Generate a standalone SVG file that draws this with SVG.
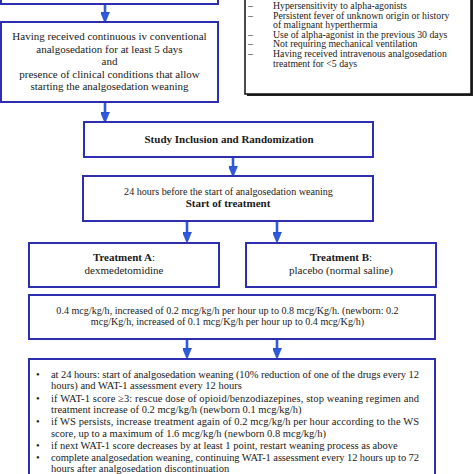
<svg xmlns="http://www.w3.org/2000/svg" width="474" height="474" viewBox="0 0 474 474">
<defs>
<style>
.box{fill:#fff;stroke:#2e2eb0;stroke-width:2}
.t{font-family:"Liberation Serif","Times New Roman",serif;fill:#1a1a1a}
.m{font-size:11px}
.s{font-size:9.8px}
.b{font-size:10.5px}
.d{font-size:10.1px}
.bold{font-weight:bold}
.arr{stroke:#2d5ae0;stroke-width:2.6;fill:none;marker-end:url(#ah)}
</style>
<marker id="ah" markerWidth="11" markerHeight="9" refX="5" refY="4.5" orient="auto" markerUnits="userSpaceOnUse" viewBox="0 0 11 9">
<path d="M0,0 L11,4.5 L0,9 Z" fill="#2d5ae0" stroke="#1f3fb0" stroke-width="0.6"/>
</marker>
</defs>
<rect width="474" height="474" fill="#fff"/>
<g id="connectors">
<line class="arr" x1="105" y1="4" x2="105" y2="17"/>
<line class="arr" x1="105" y1="102" x2="105" y2="117"/>
<line class="arr" x1="233" y1="157" x2="233" y2="171"/>
<line class="arr" x1="187" y1="221" x2="187" y2="237"/>
<line class="arr" x1="277" y1="221" x2="277" y2="237"/>
<line class="arr" x1="187" y1="339" x2="187" y2="353"/>
<line class="arr" x1="277" y1="339" x2="277" y2="353"/>
</g>
<g id="top-box">
<rect class="box" x="1" y="-20" width="217" height="24"/>
</g>
<g id="exclusion">
<rect x="247" y="-18" width="226" height="114" fill="#222"/>
<rect x="245" y="-20" width="226" height="114" fill="#fff" stroke="#111" stroke-width="1.5"/>
<g class="t s">
<text x="248" y="9">–</text><text x="273" y="9">Hypersensitivity to alpha-agonists</text>
<text x="248" y="18.6">–</text><text x="273" y="18.6">Persistent fever of unknown origin or history</text>
<text x="273" y="28.2">of malignant hyperthermia</text>
<text x="248" y="37.8">–</text><text x="273" y="37.8">Use of alpha-agonist in the previous 30 days</text>
<text x="248" y="47.4">–</text><text x="273" y="47.4">Not requiring mechanical ventilation</text>
<text x="248" y="57">–</text><text x="273" y="57">Having received intravenous analgosedation</text>
<text x="273" y="66.6">treatment for &lt;5 days</text>
</g>
</g>
<g id="inclusion">
<rect class="box" x="1" y="22" width="217" height="80"/>
<g class="t m" text-anchor="middle">
<text x="109.5" y="40">Having received continuous iv conventional</text>
<text x="109.5" y="52.5">analgosedation for at least 5 days</text>
<text x="109.5" y="65">and</text>
<text x="109.5" y="77.5">presence of clinical conditions that allow</text>
<text x="109.5" y="90">starting the analgosedation weaning</text>
</g>
</g>
<g id="randomization">
<rect class="box" x="84" y="122" width="289" height="35"/>
<text class="t m bold" x="229" y="143" text-anchor="middle">Study Inclusion and Randomization</text>
</g>
<g id="start">
<rect class="box" x="83" y="176" width="290" height="45"/>
<text class="t d" x="228.5" y="194.5" text-anchor="middle">24 hours before the start of analgosedation weaning</text>
<text class="t m bold" x="228" y="206.5" text-anchor="middle">Start of treatment</text>
</g>
<g id="treatmentA">
<rect class="box" x="29" y="243" width="190" height="44"/>
<text class="t m" x="124" y="261" text-anchor="middle"><tspan font-weight="bold">Treatment A</tspan>:</text>
<text class="t m" x="124" y="274" text-anchor="middle">dexmedetomidine</text>
</g>
<g id="treatmentB">
<rect class="box" x="246" y="243" width="190" height="44"/>
<text class="t m" x="341" y="261" text-anchor="middle"><tspan font-weight="bold">Treatment B</tspan>:</text>
<text class="t m" x="341" y="274" text-anchor="middle">placebo (normal saline)</text>
</g>
<g id="dose">
<rect class="box" x="29" y="295" width="406" height="44"/>
<text class="t d" x="227.5" y="313.5" text-anchor="middle">0.4 mcg/kg/h, increased of 0.2 mcg/kg/h per hour up to 0.8 mcg/Kg/h. (newborn: 0.2</text>
<text class="t d" x="227.5" y="325" text-anchor="middle">mcg/Kg/h, increased of 0.1 mcg/Kg/h per hour up to 0.4 mcg/Kg/h)</text>
</g>
<g id="protocol">
<rect class="box" x="29" y="359" width="406" height="130"/>
<g class="t b">
<text x="36" y="377.5">•</text>
<text x="51" y="377.5" textLength="368" lengthAdjust="spacing">at 24 hours: start of analgosedation weaning (10% reduction of one of the drugs every 12</text>
<text x="51" y="388.5">hours) and WAT-1 assessment every 12 hours</text>
<text x="36" y="401.5">•</text>
<text x="51" y="401.5" textLength="368" lengthAdjust="spacing">if WAT-1 score ≥3: rescue dose of opioid/benzodiazepines, stop weaning regimen and</text>
<text x="51" y="412.5">treatment increase of 0.2 mcg/kg/h (newborn 0.1 mcg/kg/h)</text>
<text x="36" y="424.5">•</text>
<text x="51" y="424.5" textLength="368" lengthAdjust="spacing">if WS persists, increase treatment again of 0.2 mcg/kg/h per hour according to the WS</text>
<text x="51" y="436.5">score, up to a maximum of 1.6 mcg/kg/h (newborn 0.8 mcg/kg/h)</text>
<text x="36" y="448.5">•</text>
<text x="51" y="448.5">if next WAT-1 score decreases by at least 1 point, restart weaning process as above</text>
<text x="36" y="460.5">•</text>
<text x="51" y="460.5" textLength="368" lengthAdjust="spacing">complete analgosedation weaning, continuing WAT-1 assessment every 12 hours up to 72</text>
<text x="51" y="471.5">hours after analgosedation discontinuation</text>
</g>
</g>
</svg>
